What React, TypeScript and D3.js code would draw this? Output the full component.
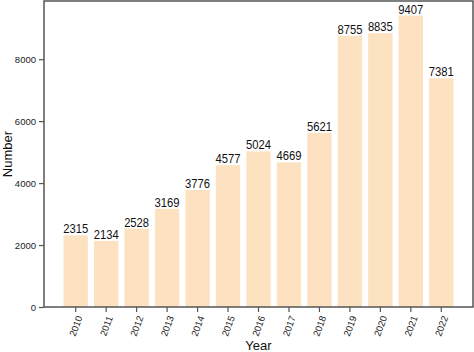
import React, { useRef, useEffect } from "react";
import * as d3 from "d3";

const years = ["2010", "2011", "2012", "2013", "2014", "2015", "2016", "2017", "2018", "2019", "2020", "2021", "2022"];
const counts = [2315, 2134, 2528, 3169, 3776, 4577, 5024, 4669, 5621, 8755, 8835, 9407, 7381];
const yTicks = [0, 2000, 4000, 6000, 8000];

const W = 474;
const H = 352;
const MARGIN = { top: 1, right: 1, bottom: 45, left: 44 };
const BAR_COLOR = "#fde2c1";
const AXIS_COLOR = "#555";
const FONT = "Liberation Sans, Arial, sans-serif";

export default function App() {
  const svgRef = useRef<SVGSVGElement | null>(null);

  useEffect(() => {
    const svg = d3.select(svgRef.current);
    svg.selectAll("*").remove();

    const x0 = MARGIN.left;
    const x1 = W - MARGIN.right;
    const y0 = H - MARGIN.bottom;
    const y1 = MARGIN.top;

    const x = d3.scaleBand().domain(years).range([x0, x1]).paddingInner(0.2).paddingOuter(0.64);
    const yMax = d3.max(counts)! * 1.05;
    const y = d3.scaleLinear().domain([0, yMax]).range([y0, y1]);

    // Bars
    svg
      .append("g")
      .selectAll("rect")
      .data(counts)
      .join("rect")
      .attr("x", (_, i) => x(years[i])!)
      .attr("y", (d) => y(d))
      .attr("width", x.bandwidth())
      .attr("height", (d) => y0 - y(d))
      .attr("fill", BAR_COLOR);

    // Value labels (narrow font in the original, so squeeze a bit)
    svg
      .append("g")
      .selectAll("text")
      .data(counts)
      .join("text")
      .attr("x", (_, i) => x(years[i])! + x.bandwidth() / 2)
      .attr("y", (d) => y(d) - 2)
      .attr("text-anchor", "middle")
      .attr("font-family", FONT)
      .attr("font-size", 13.5)
      .attr("textLength", 25)
      .attr("lengthAdjust", "spacingAndGlyphs")
      .attr("fill", "#111")
      .text((d) => d);

    // Frame
    svg
      .append("rect")
      .attr("x", x0)
      .attr("y", y1)
      .attr("width", x1 - x0)
      .attr("height", y0 - y1)
      .attr("fill", "none")
      .attr("stroke", AXIS_COLOR)
      .attr("stroke-width", 1.5);

    // Y axis
    const yAxis = svg
      .append("g")
      .attr("transform", `translate(${x0},0)`)
      .call(d3.axisLeft(y).tickValues(yTicks).tickSize(5).tickPadding(3).tickFormat(d3.format("d")));
    yAxis.select(".domain").remove();
    yAxis.selectAll("line").attr("stroke", AXIS_COLOR).attr("stroke-width", 1.2);
    yAxis.selectAll("text").attr("font-family", FONT).attr("font-size", 9.5).attr("fill", "#222");

    // X axis
    const xAxis = svg
      .append("g")
      .attr("transform", `translate(0,${y0})`)
      .call(d3.axisBottom(x).tickSize(5).tickFormat(() => ""));
    xAxis.select(".domain").remove();
    xAxis.selectAll("line").attr("stroke", AXIS_COLOR).attr("stroke-width", 1.2);

    svg
      .append("g")
      .selectAll("text")
      .data(years)
      .join("text")
      .attr(
        "transform",
        (d) => `translate(${x(d)! + x.bandwidth() / 2},${y0 + 19}) rotate(-70)`
      )
      .attr("text-anchor", "middle")
      .attr("dominant-baseline", "central")
      .attr("font-family", FONT)
      .attr("font-size", 9.5)
      .attr("fill", "#222")
      .text((d) => d);

    // Axis titles
    svg
      .append("text")
      .attr("x", (x0 + x1) / 2)
      .attr("y", H - 2)
      .attr("text-anchor", "middle")
      .attr("font-family", FONT)
      .attr("font-size", 13)
      .attr("fill", "#111")
      .text("Year");

    svg
      .append("text")
      .attr("transform", `translate(12,${(y0 + y1) / 2}) rotate(-90)`)
      .attr("text-anchor", "middle")
      .attr("font-family", FONT)
      .attr("font-size", 13)
      .attr("fill", "#111")
      .text("Number");
  }, []);

  return (
    <svg
      ref={svgRef}
      width={W}
      height={H}
      style={{ position: "absolute", left: 0, top: 0, background: "#fff" }}
    />
  );
}
